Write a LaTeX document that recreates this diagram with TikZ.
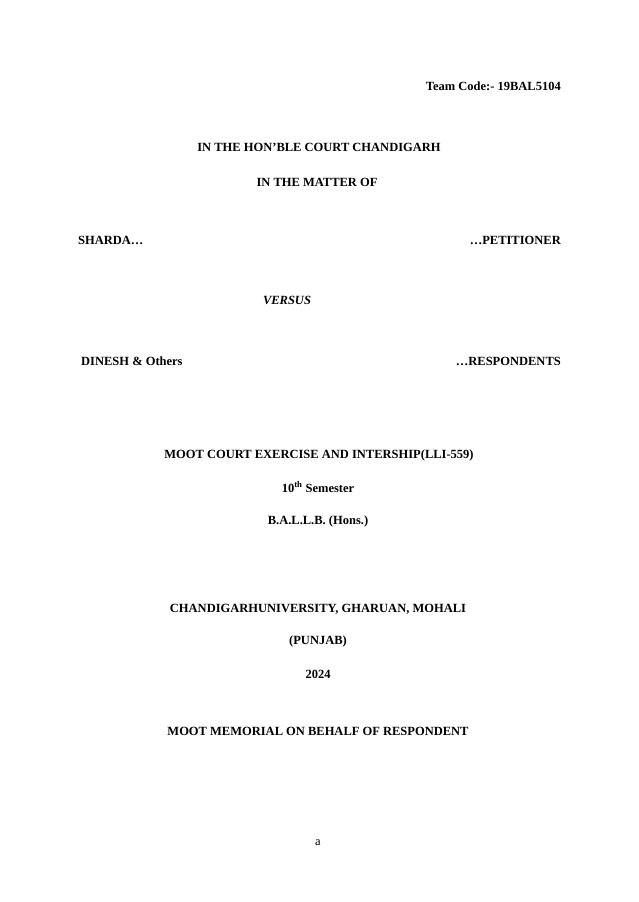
\documentclass[tikz,border=0pt]{standalone}
\usepackage{fontspec}
\setmainfont{Liberation Serif}
\begin{document}
\begin{tikzpicture}[x=1pt,y=-1pt,every node/.style={inner sep=0pt,font=\fontsize{12.5}{15}\selectfont\bfseries}]
\useasboundingbox[fill=white] (0,0) rectangle (638,902);
\node[anchor=east] (team) at (561,86) {Team Code:- 19BAL5104};
\node (court) at (319,147) {IN THE HON’BLE COURT CHANDIGARH};
\node (matter) at (317,182) {IN THE MATTER OF};
\node[anchor=west] (sharda) at (78,240) {SHARDA…};
\node[anchor=east] (pet) at (561,240) {…PETITIONER};
\node (versus) at (287,300) {\itshape VERSUS};
\node[anchor=west] (dinesh) at (81,361) {DINESH \& Others};
\node[anchor=east] (resp) at (561,361) {…RESPONDENTS};
\node (moot) at (319,455) {MOOT COURT EXERCISE AND INTERSHIP(LLI-559)};
\node (sem) at (318,487) {10\textsuperscript{th} Semester};
\node (ballb) at (318,521) {B.A.L.L.B. (Hons.)};
\node (cu) at (318,609) {CHANDIGARHUNIVERSITY, GHARUAN, MOHALI};
\node (punjab) at (318,641) {(PUNJAB)};
\node (year) at (318,674) {2024};
\node (memo) at (318,731) {MOOT MEMORIAL ON BEHALF OF RESPONDENT};
\node[font=\fontsize{12.5}{15}\selectfont] (pg) at (318,843) {a};
\end{tikzpicture}
\end{document}
